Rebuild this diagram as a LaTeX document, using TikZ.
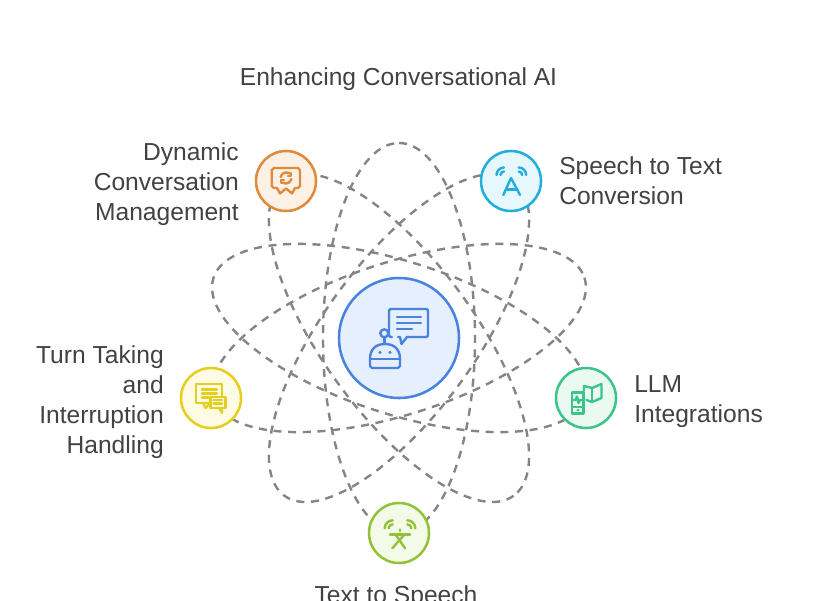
\documentclass[tikz,border=0pt]{standalone}
\usepackage{fontspec}
\setmainfont{Liberation Sans}
\definecolor{ink}{HTML}{424242}
\definecolor{orbit}{HTML}{858585}
\definecolor{cblue}{HTML}{4A82E0}\definecolor{fblue}{HTML}{E6EFFD}
\definecolor{corange}{HTML}{E08A3C}\definecolor{forange}{HTML}{FDF1E6}
\definecolor{ccyan}{HTML}{22AEDD}\definecolor{fcyan}{HTML}{E6F8FD}
\definecolor{cgreen}{HTML}{3CC58A}\definecolor{fgreen}{HTML}{EAFAF3}
\definecolor{clime}{HTML}{93C13A}\definecolor{flime}{HTML}{F4FAE8}
\definecolor{cyellow}{HTML}{E5CF1E}\definecolor{fyellow}{HTML}{FDFBE3}
\tikzset{
  lbl/.style={inner sep=0pt,text=ink,font=\fontsize{18.45}{22.5}\selectfont},
  orbitline/.style={draw=orbit,line width=1.8pt,dash pattern=on 6pt off 5pt},
  hub/.style={circle,minimum size=90pt,inner sep=0pt,line width=1.9pt},
  sat/.style={circle,minimum size=45pt,inner sep=0pt,line width=1.9pt},
  ico/.style={line width=1.8pt,line cap=round,line join=round},
}
\begin{document}
\begin{tikzpicture}[x=0.75pt,y=-0.75pt]
\useasboundingbox (0,0) rectangle (813,600);
\clip (0,0) rectangle (813,600);
\fill[white] (0,0) rectangle (813,600);
\foreach \a in {90,18,-18,54,-54}
  \draw[orbitline,rotate around={\a:(399,338)}] (399,338) ellipse [x radius=195,y radius=76];
\node[hub,draw=cblue,fill=fblue] (hubn) at (399,338) {};
\node[sat,draw=corange,fill=forange] (dyn) at (286,181) {};
\node[sat,draw=ccyan,fill=fcyan] (stt) at (511,181) {};
\node[sat,draw=cgreen,fill=fgreen] (llm) at (586,398) {};
\node[sat,draw=clime,fill=flime] (tts) at (399,533) {};
\node[sat,draw=cyellow,fill=fyellow] (turn) at (211,398) {};
\node[lbl,anchor=center] (title) at (398.5,79) {Enhancing Conversational AI};
\node[lbl,anchor=east,align=right] (ldyn) at (239,184) {Dynamic\\Conversation\\Management};
\node[lbl,anchor=west,align=left] (lstt) at (559,181) {Speech to Text\\Conversion};
\node[lbl,anchor=west,align=left] (lllm) at (634,402) {LLM\\Integrations};
\node[lbl,anchor=east,align=right] (lturn) at (164,402) {Turn Taking\\and\\Interruption\\Handling};
\node[lbl,anchor=center] (ltts) at (396,597) {Text to Speech};
% central icon
\begin{scope}[ico,draw=cblue]
\draw (392,337) -- (391,337) arc[start angle=90,end angle=180,radius=2] -- (389,311) arc[start angle=180,end angle=270,radius=2] -- (426,309) arc[start angle=270,end angle=360,radius=2] -- (428,335) arc[start angle=0,end angle=90,radius=2] -- (407,337) -- (401.5,344) -- (400,337) -- (398,337);
\draw (397,317) -- (421,317) (397,323) -- (421,323) (397,329) -- (412,329);
\draw (384.3,333.3) circle[radius=4];
\draw (384.3,337.5) -- (384.3,344);
\draw (370,359) .. controls (370,349) and (376,344) .. (385,344) .. controls (394,344) and (400,349) .. (400,359) -- (400,366) -- (398,368) -- (372,368) -- (370,366) -- cycle;
\draw (370,359) -- (400,359);
\fill[cblue] (380,352.3) circle[radius=1.8] (390,352.3) circle[radius=1.8];
\end{scope}
% orange icon
\begin{scope}[ico,draw=corange]
\draw (274,168) -- (298,168) -- (300,170) -- (300,186) -- (298,188) -- (295,188) -- (292,193.5) -- (286,188.5) -- (280,193.5) -- (277,188) -- (274,188) -- (271.7,186) -- (271.7,170) -- cycle;
\draw (280.5,177) .. controls (281,174) and (284,172.5) .. (286,172.5) -- (291,173.5);
\draw (291,173.5) -- (291,176) -- (288,176);
\draw (291.5,179) .. controls (291,182) and (288,183.5) .. (286,183.5) -- (281,182.5);
\draw (281,182.5) -- (281,180) -- (284,180);
\end{scope}
% cyan icon
\begin{scope}[ico,draw=ccyan]
\draw (503.3,195) -- (511,178) -- (520,195);
\draw (506.3,189.3) -- (517,189.3);
\draw (496.5,175) arc[start angle=180,end angle=270,radius=7.5];
\draw (500.5,175) arc[start angle=180,end angle=270,radius=3.5];
\draw (526.2,175) arc[start angle=0,end angle=-90,radius=7.5];
\draw (522.2,175) arc[start angle=0,end angle=-90,radius=3.5];
\end{scope}
% green icon
\begin{scope}[ico,draw=cgreen]
\draw (572,392.3) rectangle (583.3,413.3);
\draw (572,406.7) -- (583.3,406.7);
\draw (577.5,410) -- (578.5,410);
\draw (572,400) -- (575.5,400) -- (577,396.5) -- (578.5,403) -- (580,400) -- (583,400);
\draw (584,391) -- (584,386) -- (592,388) -- (601.5,384) -- (601.5,398) -- (592,402) -- (586.5,400);
\draw (592,388) -- (592,402);
\end{scope}
% lime icon
\begin{scope}[ico,draw=clime]
\draw (390,534.3) -- (410,534.3);
\draw (400,529.5) -- (400,531);
\draw (396,535) -- (405,548.3);
\draw (404,535) -- (392.3,548.3);
\draw (384.7,528.3) arc[start angle=180,end angle=270,radius=8];
\draw (388.7,528.3) arc[start angle=180,end angle=270,radius=4];
\draw (415.3,528.3) arc[start angle=0,end angle=-90,radius=8];
\draw (411.3,528.3) arc[start angle=0,end angle=-90,radius=4];
\end{scope}
% yellow icon
\begin{scope}[ico,draw=cyellow]
\draw (196,384) rectangle (222,402.7);
\draw (202,389.3) -- (217,389.3) (202,393.3) -- (217,393.3) (202,397.3) -- (209,397.3);
\draw (203,402.7) -- (205.5,408) -- (210,402.7);
\draw[fill=fyellow] (210.3,396.7) rectangle (225.3,407.7);
\draw (213.5,400) -- (222,400) (213.5,403.3) -- (222,403.3);
\draw[fill=fyellow] (218.7,407.7) -- (222,412.7) -- (222,407.7);
\end{scope}
\end{tikzpicture}
\end{document}
